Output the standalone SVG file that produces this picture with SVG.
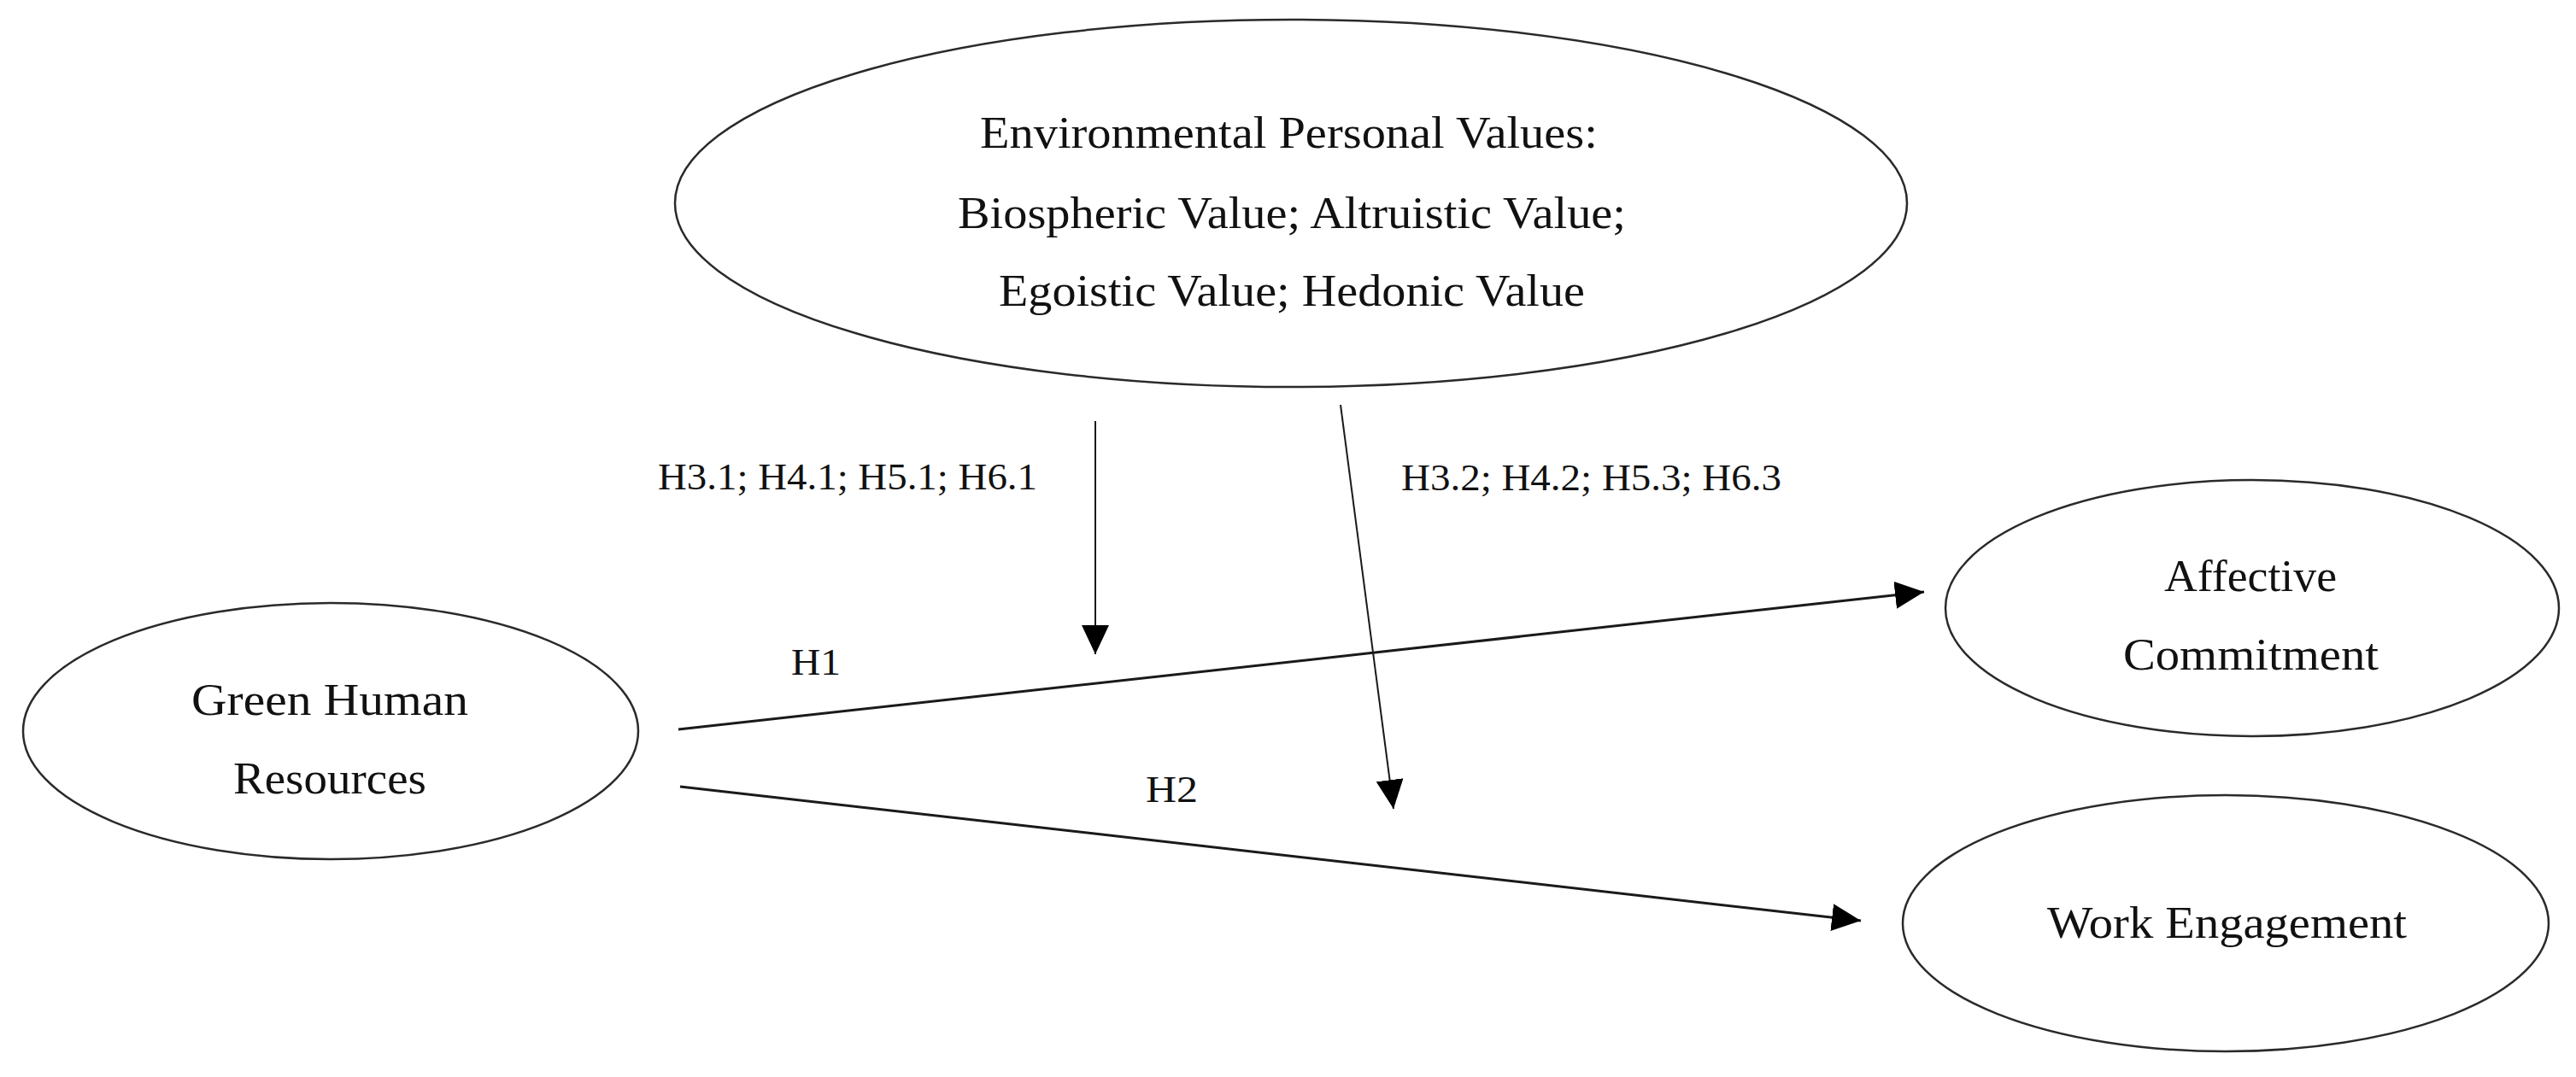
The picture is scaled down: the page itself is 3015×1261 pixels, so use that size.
<svg xmlns="http://www.w3.org/2000/svg" width="3015" height="1261" viewBox="0 0 3015 1261">
  <style>
    .node { fill: #ffffff; stroke: #2a2a2a; stroke-width: 2.5; }
    .label { font-family: "Liberation Serif", "Times New Roman", serif; font-size: 52px; fill: #111111; }
    .hyp { font-family: "Liberation Serif", "Times New Roman", serif; font-size: 44px; fill: #111111; }
    .edge { stroke: #1a1a1a; fill: none; }
    .main { stroke-width: 3; }
    .mod { stroke-width: 2; }
  </style>
  <defs>
    <marker id="arrow" markerUnits="userSpaceOnUse" markerWidth="34" markerHeight="32" viewBox="0 0 34 32" refX="34" refY="16" orient="auto">
      <path d="M0,0 L34,16 L0,32 Z" fill="#000000"/>
    </marker>
  </defs>
  <rect width="3015" height="1261" fill="#ffffff"/>

  <g id="node-epv">
    <ellipse class="node" cx="1511" cy="238" rx="721" ry="215"/>
    <text class="label" x="1147" y="173" textLength="723" lengthAdjust="spacingAndGlyphs">Environmental Personal Values:</text>
    <text class="label" x="1121" y="267" textLength="782" lengthAdjust="spacingAndGlyphs">Biospheric Value; Altruistic Value;</text>
    <text class="label" x="1169" y="358" textLength="686" lengthAdjust="spacingAndGlyphs">Egoistic Value; Hedonic Value</text>
  </g>

  <g id="node-ghr">
    <ellipse class="node" cx="387" cy="856" rx="360" ry="150"/>
    <text class="label" x="224" y="837" textLength="324" lengthAdjust="spacingAndGlyphs">Green Human</text>
    <text class="label" x="273" y="929" textLength="226" lengthAdjust="spacingAndGlyphs">Resources</text>
  </g>

  <g id="node-ac">
    <ellipse class="node" cx="2636" cy="712" rx="359" ry="150"/>
    <text class="label" x="2533" y="692" textLength="202" lengthAdjust="spacingAndGlyphs">Affective</text>
    <text class="label" x="2485" y="784" textLength="299" lengthAdjust="spacingAndGlyphs">Commitment</text>
  </g>

  <g id="node-we">
    <ellipse class="node" cx="2605" cy="1081" rx="378" ry="150"/>
    <text class="label" x="2396" y="1098" textLength="421" lengthAdjust="spacingAndGlyphs">Work Engagement</text>
  </g>

  <g id="connectors">
    <line class="edge main" x1="794" y1="854" x2="2252" y2="693" marker-end="url(#arrow)"/>
    <line class="edge main" x1="796" y1="921" x2="2178" y2="1078" marker-end="url(#arrow)"/>
    <line class="edge mod" x1="1282" y1="493" x2="1282" y2="766" marker-end="url(#arrow)"/>
    <line class="edge mod" x1="1569" y1="474" x2="1631" y2="947" marker-end="url(#arrow)"/>
    <text class="hyp" x="770" y="573" textLength="444" lengthAdjust="spacingAndGlyphs">H3.1; H4.1; H5.1; H6.1</text>
    <text class="hyp" x="1640" y="574" textLength="445" lengthAdjust="spacingAndGlyphs">H3.2; H4.2; H5.3; H6.3</text>
    <text class="hyp" x="926" y="790" textLength="58" lengthAdjust="spacingAndGlyphs">H1</text>
    <text class="hyp" x="1341" y="939" textLength="61" lengthAdjust="spacingAndGlyphs">H2</text>
  </g>
</svg>
